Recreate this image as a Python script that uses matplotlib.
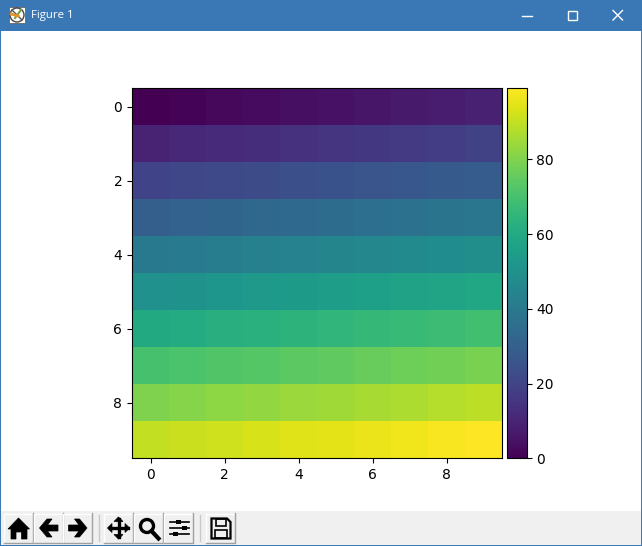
import numpy as np
import matplotlib
matplotlib.use('Agg')
import matplotlib.pyplot as plt
from matplotlib.patches import Rectangle, Polygon, Circle

W, H = 642, 546

# 이미지 값
rows = [
    [0, 1, 2, 3, 4, 5, 6, 7, 8, 9],
    [10, 11, 12, 13, 14, 15, 16, 17, 18, 19],
    [20, 21, 22, 23, 24, 25, 26, 27, 28, 29],
    [30, 31, 32, 33, 34, 35, 36, 37, 38, 39],
    [40, 41, 42, 43, 44, 45, 46, 47, 48, 49],
    [50, 51, 52, 53, 54, 55, 56, 57, 58, 59],
    [60, 61, 62, 63, 64, 65, 66, 67, 68, 69],
    [70, 71, 72, 73, 74, 75, 76, 77, 78, 79],
    [80, 81, 82, 83, 84, 85, 86, 87, 88, 89],
    [90, 91, 92, 93, 94, 95, 96, 97, 98, 99],
]
x_ticks = [0, 2, 4, 6, 8]
y_ticks = [0, 2, 4, 6, 8]
cbar_ticks = [0, 20, 40, 60, 80]
window_title = "Figure 1"


def px_axes(fig, left, top, right, bottom):
    return fig.add_axes([left / W, 1 - bottom / H, (right - left) / W, (bottom - top) / H])


fig = plt.figure(figsize=(W / 100, H / 100), dpi=100, facecolor='white')

# 본 차트
ax = px_axes(fig, 132, 88.45, 502, 458.35)
im = ax.imshow(np.array(rows), cmap='viridis', aspect='auto')
ax.set_xticks(x_ticks)
ax.set_yticks(y_ticks)

cax = px_axes(fig, 507, 88.45, 526.5, 458.35)
cbar = fig.colorbar(im, cax=cax)
cbar.set_ticks(cbar_ticks)

# 창 테두리, 툴바 (픽셀 좌표)
ui = fig.add_axes([0, 0, 1, 1], zorder=5)
ui.set_xlim(0, W)
ui.set_ylim(H, 0)
ui.axis('off')
ui.patch.set_alpha(0)

blue = '#3a78b5'
ui.add_patch(Rectangle((0, 0), W, 31, fc=blue, ec='none'))
ui.add_patch(Rectangle((0, 0), 1, H, fc=blue, ec='none'))
ui.add_patch(Rectangle((W - 1, 0), 1, H, fc=blue, ec='none'))
ui.add_patch(Rectangle((1, 511), W - 2, 34, fc='#f0f0f0', ec='none'))
ui.add_patch(Rectangle((0, H - 1), W, 1, fc=blue, ec='none'))

# 제목 표시줄
ui.add_patch(Rectangle((9, 7), 16, 16, fc='white', ec='#666666', lw=0.6))
ui.add_patch(Circle((17, 15), 7, fc='white', ec='#444444', lw=1))
ui.plot([12, 22], [10, 20], color='#555555', lw=1)
ui.plot([21, 15], [10, 18], color='#70a040', lw=1.5)
ui.plot([11, 18], [14, 16], color='#e8902a', lw=2)
ui.text(31, 15.5, window_title, color='white', fontsize=8.2, family='Open Sans',
        va='center', ha='left')
ui.plot([522, 532], [15.5, 15.5], color='white', lw=1)
ui.add_patch(Rectangle((567.5, 10.5), 9, 9, fc='none', ec='white', lw=1))
ui.plot([613, 622.5], [10.5, 20], color='white', lw=1)
ui.plot([613, 622.5], [20, 10.5], color='white', lw=1)

# 툴바 버튼
buttons = [4, 34, 63, 104, 134, 164, 206]
for bx in buttons:
    ui.add_patch(Rectangle((bx, 513), 29, 30, fc='#f0f0f0', ec='none'))
    ui.plot([bx, bx, bx + 28], [543, 513.5, 513.5], color='white', lw=1)
    ui.plot([bx, bx + 28.5, bx + 28.5], [542.5, 542.5, 513], color='#a0a0a0', lw=1)
for sx in [98.5, 199.5]:
    ui.plot([sx, sx], [515, 541], color='#c8c8c8', lw=1)

k = 'black'
# home
ui.add_patch(Polygon([(18.5, 518), (29.5, 529), (27, 529), (27, 539), (21.5, 539), (21.5, 532),
                      (16, 532), (16, 539), (11, 539), (11, 529), (8, 529)], fc=k, ec=k, lw=0.5))
# back / forward
ui.add_patch(Polygon([(39.5, 528), (47, 519), (52, 519), (47.5, 525), (58, 525), (58, 531),
                      (47.5, 531), (52, 537), (47, 537)], fc=k, ec=k, lw=0.5))
ui.add_patch(Polygon([(87, 528), (79.5, 519), (74.5, 519), (79, 525), (68.5, 525), (68.5, 531),
                      (79, 531), (74.5, 537), (79.5, 537)], fc=k, ec=k, lw=0.5))
# move
cx, cy = 118.5, 528
ui.plot([cx - 9, cx + 9], [cy, cy], color=k, lw=2.4)
ui.plot([cx, cx], [cy - 9, cy + 9], color=k, lw=2.4)
ui.add_patch(Polygon([(cx, cy - 11), (cx - 4.5, cy - 6.5), (cx + 4.5, cy - 6.5)], fc=k, ec=k, lw=0.5))
ui.add_patch(Polygon([(cx, cy + 11), (cx - 4.5, cy + 6.5), (cx + 4.5, cy + 6.5)], fc=k, ec=k, lw=0.5))
ui.add_patch(Polygon([(cx - 11, cy), (cx - 6.5, cy - 4.5), (cx - 6.5, cy + 4.5)], fc=k, ec=k, lw=0.5))
ui.add_patch(Polygon([(cx + 11, cy), (cx + 6.5, cy - 4.5), (cx + 6.5, cy + 4.5)], fc=k, ec=k, lw=0.5))
# zoom
ui.add_patch(Circle((147, 526), 6.5, fc='none', ec=k, lw=2.4))
ui.plot([151.5, 158.5], [531, 538.5], color=k, lw=3.0)
# sliders
for sy, hx in [(522, 178), (528, 184), (534, 175)]:
    ui.plot([170, 189], [sy, sy], color=k, lw=1.2)
    ui.add_patch(Rectangle((hx - 2.5, sy - 2.2), 5, 4.4, fc=k, ec='none'))
# save
ui.add_patch(Polygon([(211.5, 518.5), (227, 518.5), (230.5, 522), (230.5, 538.5), (211.5, 538.5)],
                     fc='none', ec=k, lw=1.6))
ui.add_patch(Rectangle((215.5, 519), 10, 6.5, fc='none', ec=k, lw=1.2))
ui.add_patch(Rectangle((215, 530), 12, 8, fc='none', ec=k, lw=1.2))

fig.savefig('out.png', dpi=100)
